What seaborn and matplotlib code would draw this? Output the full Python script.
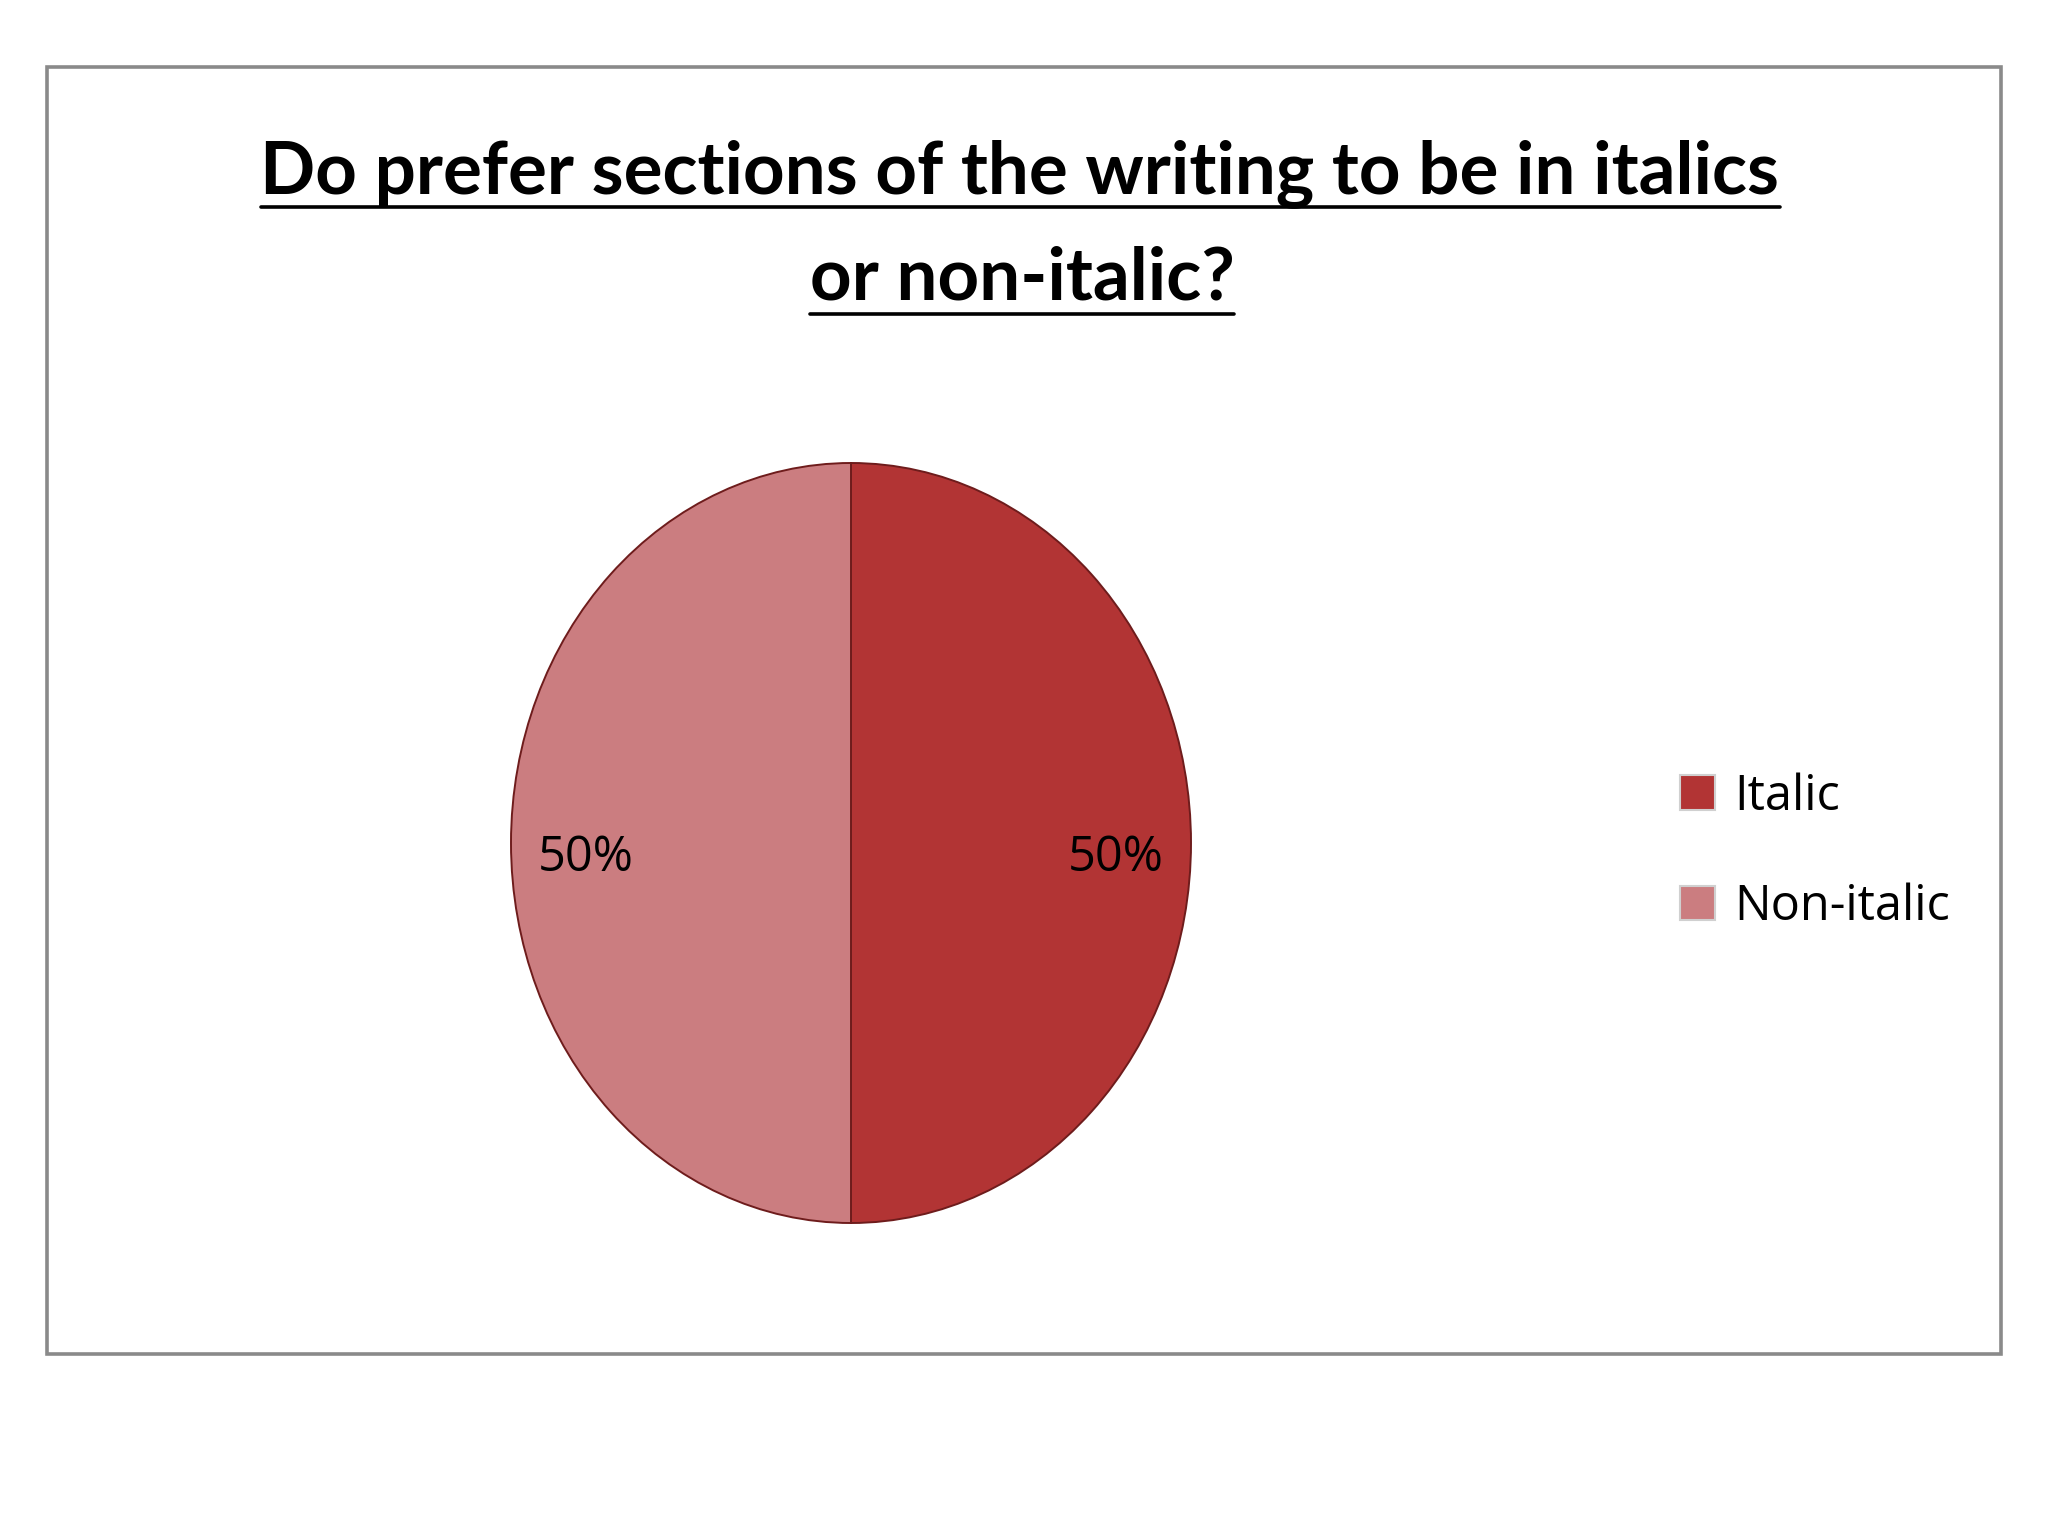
import matplotlib
matplotlib.use("Agg")
import matplotlib.pyplot as plt
from matplotlib.patches import Rectangle, Patch
from matplotlib.lines import Line2D
import seaborn as sns

# datos
categorias = ["Italic", "Non-italic"]
valores = [50, 50]
colores = ["#B23434", "#CB7D80"]
titulo = ["Do prefer sections of the writing to be in italics", "or non-italic?"]

sns.set_theme(style="white")
plt.rcParams["font.family"] = ["Open Sans", "DejaVu Sans"]

W, H = 2048, 1536
fig = plt.figure(figsize=(W / 100, H / 100), dpi=100)
fig.patch.set_facecolor("white")

# marco del gráfico
fig.patches.append(Rectangle((47 / W, 1 - 1354 / H), (2001 - 47) / W, (1354 - 67) / H,
                             transform=fig.transFigure, fill=False,
                             edgecolor="#8a8a8a", linewidth=2.6))

# pastel (ligeramente elíptico como el original)
cx, cy, rx, ry = 851, 843, 340, 380
ax = fig.add_axes([(cx - rx) / W, 1 - (cy + ry) / H, 2 * rx / W, 2 * ry / H])
wedges, texts, autotexts = ax.pie(valores, colors=colores, startangle=90, counterclock=False,
                                  autopct="%1.0f%%", pctdistance=0.78,
                                  wedgeprops=dict(edgecolor="#6e1c1c", linewidth=1.4),
                                  textprops=dict(fontsize=35, color="black"))
for t in autotexts:
    x, y = t.get_position()
    t.set_position((x, y - 0.04))
ax.set_aspect("auto")
ax.set_xlim(-1.0, 1.0)
ax.set_ylim(-1.0, 1.0)
ax.axis("off")

# leyenda
handles = [Patch(facecolor=c, edgecolor="#d0d0d0", linewidth=1.5) for c in colores]
leg = fig.legend(handles, categorias, loc="center left",
                 bbox_to_anchor=(1636 / W, 1 - 852 / H), frameon=False,
                 fontsize=35, handlelength=0.72, handleheight=0.72,
                 handletextpad=0.4, labelspacing=1.25)
for t in leg.get_texts():
    t.set_color("black")

# título subrayado, ajustado al ancho del original
tfont = dict(family=["Lato", "DejaVu Sans"], fontweight="bold",
             ha="center", va="baseline", color="black")
t1 = fig.text(1020 / W, 1 - 193 / H, titulo[0], fontsize=49, **tfont)
t2 = fig.text(1022 / W, 1 - 300 / H, titulo[1], fontsize=49, **tfont)

fig.canvas.draw()
r = fig.canvas.get_renderer()
ancho = t1.get_window_extent(renderer=r).width
fs = 49 * 1518 / ancho
t1.set_fontsize(fs)
t2.set_fontsize(fs)
fig.canvas.draw()

for t, yb in [(t1, 207), (t2, 314)]:
    bb = t.get_window_extent(renderer=r)
    fig.lines.append(Line2D([bb.x0 / W, bb.x1 / W], [1 - yb / H, 1 - yb / H],
                            transform=fig.transFigure, color="black", linewidth=2.6))

fig.savefig("out.png", dpi=100, facecolor="white")
plt.close(fig)
